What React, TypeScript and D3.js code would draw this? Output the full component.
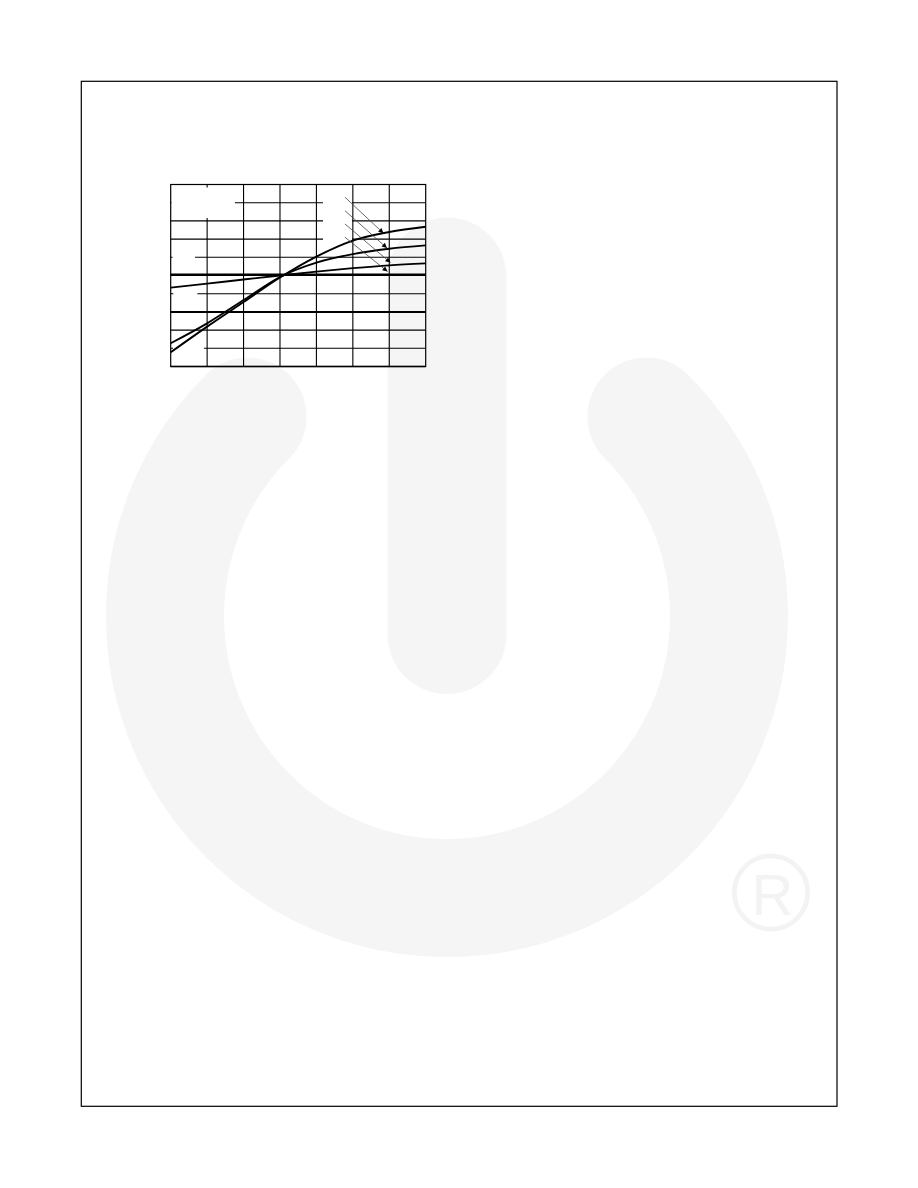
import React from 'react';
import * as d3 from 'd3';

// x: temperature (°C), y: normalized value
const temps = [-50, -25, 0, 25, 50, 75, 100, 125];
const seriesA = [0.578, 0.719, 0.854, 0.989, 1.104, 1.192, 1.239, 1.268];
const seriesB = [0.628, 0.737, 0.865, 0.992, 1.071, 1.118, 1.147, 1.165];
const seriesC = [0.933, 0.955, 0.978, 1.0, 1.021, 1.04, 1.056, 1.067];
const seriesD = [1, 1, 1, 1, 1, 1, 1, 1];
const xTicks = [-25, 0, 25, 50, 75, 100];
const yTicks = [0.6, 0.7, 0.8, 0.9, 1.0, 1.1, 1.2, 1.3, 1.4];

// annotation arrows: [t0, v0, t1, v1]
const arrowsData = [
  [69.6, 1.43, 96.0, 1.232],
  [69.6, 1.356, 98.4, 1.151],
  [69.6, 1.283, 100.8, 1.071],
  [69.6, 1.21, 98.8, 1.022],
];

// blank areas where labels were removed: [t0, t1, v0, v1]
const blanks = [
  [-49.5, -5.9, 1.4835, 1.316],
  [54.5, 74.4, 1.47, 1.151],
  [-48.8, -33.3, 1.11, 1.09],
  [-48.2, -31.7, 0.91, 0.89],
  [-48.4, -27.1, 0.61, 0.59],
];

const W = 918;
const H = 1188;
const PL = 170.7, PR = 425.7, PT = 184.5, PB = 366.5;
const WM = '#f5f5f5';

export default function App() {
  const x = d3.scaleLinear().domain([-50, 125]).range([PL, PR]);
  const y = d3.scaleLinear().domain([0.5, 1.5]).range([PB, PT]);
  const line = d3
    .line<number>()
    .x((_, i) => x(temps[i]))
    .y((d) => y(d))
    .curve(d3.curveMonotoneX);

  // watermark geometry
  const cx = 447, cy = 616, R = 282;
  const a0 = (45 * Math.PI) / 180, a1 = (315 * Math.PI) / 180;
  const ringPath = d3.path();
  ringPath.arc(cx, cy, R, -Math.PI / 2 + a0, -Math.PI / 2 + a1);

  return (
    <svg
      width={W}
      height={H}
      style={{ position: 'absolute', left: 0, top: 0, background: '#fff' }}
    >
      <rect x={0} y={0} width={W} height={H} fill="#fff" />
      {/* watermark */}
      <path d={ringPath.toString()} fill="none" stroke={WM} strokeWidth={118} strokeLinecap="round" />
      <line x1={447} y1={277} x2={447} y2={634.5} stroke={WM} strokeWidth={119} strokeLinecap="round" />
      <circle cx={771} cy={892.5} r={36.7} fill="none" stroke="#f3f3f3" strokeWidth={4.7} />
      <text
        x={772.5}
        y={915}
        textAnchor="middle"
        fontFamily="Liberation Sans, Arial, sans-serif"
        fontSize={58}
        fill="#f3f3f3"
      >
        R
      </text>

      {/* page frame */}
      <rect x={81.3} y={81.3} width={755.7} height={1025} fill="none" stroke="#000" strokeWidth={1.2} />

      {/* grid */}
      <g stroke="#000">
        {xTicks.map((t) => (
          <line key={'v' + t} x1={x(t)} x2={x(t)} y1={PT} y2={PB} strokeWidth={1.1} />
        ))}
        {yTicks.map((v) => (
          <line
            key={'h' + v}
            x1={PL}
            x2={PR}
            y1={y(v)}
            y2={y(v)}
            strokeWidth={Math.abs(v - 0.8) < 1e-6 ? 2 : 1.1}
          />
        ))}
      </g>
      {/* blanks */}
      <g fill="#fff">
        {blanks.map((b, i) => (
          <rect key={i} x={x(b[0])} y={y(b[2])} width={x(b[1]) - x(b[0])} height={y(b[3]) - y(b[2])} />
        ))}
      </g>
      {/* border */}
      <rect x={PL} y={PT} width={PR - PL} height={PB - PT} fill="none" stroke="#000" strokeWidth={1.2} />
      <line x1={PL} x2={PR} y1={PB} y2={PB} stroke="#000" strokeWidth={1.6} />

      {/* curves */}
      <g fill="none" stroke="#000">
        <path d={line(seriesD) || ''} strokeWidth={2.6} transform="translate(0,-0.8)" />
        <path d={line(seriesC) || ''} strokeWidth={1.8} />
        <path d={line(seriesB) || ''} strokeWidth={1.8} />
        <path d={line(seriesA) || ''} strokeWidth={1.9} />
      </g>

      {/* arrows */}
      <defs>
        <marker id="ah" viewBox="0 0 10 10" refX={10} refY={5} markerWidth={8} markerHeight={5} orient="auto" markerUnits="userSpaceOnUse">
          <path d="M0,0 L10,5 L0,10 Z" fill="#000" />
        </marker>
      </defs>
      <g stroke="#444" strokeWidth={0.8}>
        {arrowsData.map((a, i) => (
          <line key={i} x1={x(a[0])} y1={y(a[1])} x2={x(a[2])} y2={y(a[3])} markerEnd="url(#ah)" />
        ))}
      </g>
    </svg>
  );
}
